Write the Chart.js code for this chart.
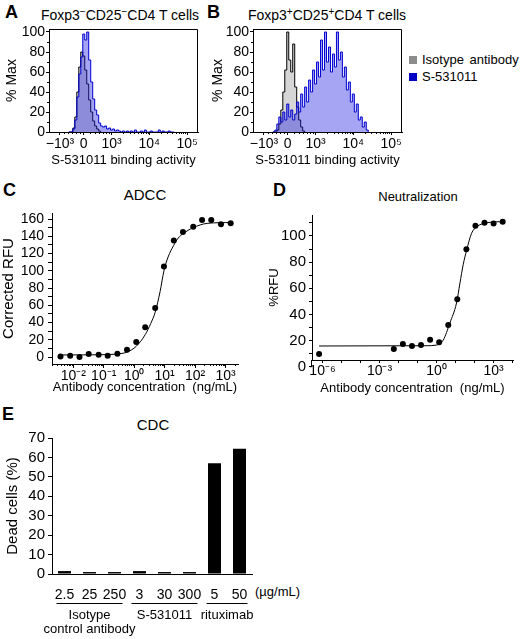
<!DOCTYPE html>
<html>
<head>
<meta charset="utf-8">
<script src="https://cdn.jsdelivr.net/npm/chart.js@4.4.1/dist/chart.umd.min.js"></script>
<style>
  html, body { margin: 0; padding: 0; background: #fff; }
  body { position: relative; width: 520px; height: 639px; overflow: hidden;
         font-family: 'Liberation Sans', Arial, sans-serif; color: #000; }
  canvas { position: absolute; }
  .t { position: absolute; white-space: nowrap; line-height: 16px; font-size: 13px; }
  .c { transform: translateX(-50%); }
  .letter { font-weight: bold; font-size: 18px; line-height: 20px; }
  .t sup { font-size: 10px; line-height: 0; vertical-align: 5px; }
  .sw { position: absolute; width: 8px; height: 8px; }
</style>
</head>
<body>
<div class="t letter" style="left:5px;top:2px">A</div>
<div class="t letter" style="left:207px;top:2px">B</div>
<div class="t letter" style="left:3px;top:180px">C</div>
<div class="t letter" style="left:273px;top:180px">D</div>
<div class="t letter" style="left:2px;top:404px">E</div>

<div class="t c" style="left:120px;top:7px;font-size:14px">Foxp3<sup>−</sup>CD25<sup>−</sup>CD4 T cells</div>
<div class="t c" style="left:327px;top:7px;font-size:14px">Foxp3<sup>+</sup>CD25<sup>+</sup>CD4 T cells</div>
<div class="t c" style="left:145px;top:187px;font-size:15px">ADCC</div>
<div class="t c" style="left:418px;top:189px">Neutralization</div>
<div class="t c" style="left:153px;top:417px;font-size:15px">CDC</div>

<div class="sw" style="left:409px;top:56px;background:#8c8c8c"></div>
<div class="t" style="left:422px;top:52px;word-spacing:2px">Isotype antibody</div>
<div class="sw" style="left:409px;top:73px;background:#0000c8"></div>
<div class="t" style="left:422px;top:69px">S-531011</div>
<div class="t" style="left:255px;top:584px">(µg/mL)</div>

<canvas id="cA" width="210" height="150" style="left:0px;top:20px"></canvas>
<canvas id="cB" width="205" height="150" style="left:205px;top:20px"></canvas>
<canvas id="cC" width="262" height="192" style="left:0px;top:205px"></canvas>
<canvas id="cD" width="258" height="192" style="left:262px;top:205px"></canvas>
<canvas id="cE" width="300" height="209" style="left:0px;top:430px"></canvas>

<script>
// ---- A / B: flow histograms (x in display channels of the biexponential axis)
const flowBins = [20, 22, 24, 26, 28, 30, 32, 34, 36, 38, 40, 42, 44, 46, 48, 50, 52, 54,
  56, 58, 60, 62, 64, 66, 68, 70, 72, 74, 76, 78, 80, 82, 84, 86, 88, 90, 92, 94, 96, 98,
  100, 102, 104, 106, 108, 110, 112, 114, 116, 118, 120, 122, 124, 126]
const flowTickPos = [11, 35, 63, 101, 139]
const flowTickLabels = ['−10³', '0', '10³', '10⁴', '10⁵']
const pctMaxTicks = [0, 20, 40, 60, 80, 100]

const negIsotype = [0, 0, 4, 15, 40, 65, 80, 76, 62, 48, 32, 20, 11, 6, 3, 1, 0]
const negS531011 = [0, 0, 3, 12, 35, 58, 75, 98, 92, 100, 72, 50, 33, 22, 17, 9, 6, 5,
  6, 3, 4, 2, 3, 1, 2, 1, 0, 1, 0, 1, 0, 1, 0, 2, 0, 0, 1, 0, 2, 0,
  0, 1, 0, 0, 0, 2, 0, 1, 0, 0, 1, 0, 0, 0]
const posIsotype = [0, 0, 2, 8, 22, 40, 62, 100, 72, 60, 88, 45, 25, 12, 5, 1, 0]
const posS531011 = [0, 2, 8, 15, 10, 20, 12, 28, 15, 22, 12, 18, 30, 20, 38, 25, 45, 30,
  52, 40, 62, 48, 70, 55, 92, 62, 100, 70, 85, 60, 78, 65, 100, 72, 80, 55, 65, 42, 50, 30,
  38, 20, 28, 12, 15, 5, 10, 2, 0]

// ---- C: ADCC
const adccConc = [0.0038, 0.0079, 0.016, 0.032, 0.068, 0.135, 0.28, 0.58, 1.17, 2.3,
  4.9, 9.5, 20, 40, 87, 170, 340, 710, 1480]
const adccRFU = [0.8, 1.6, 0, 3.5, 2.7, 1.6, 3.9, 8.6, 17.5, 34.6,
  57, 105, 135, 145, 151, 159, 159, 154, 155]
const adccFitConc = [0.0035, 0.032, 0.16, 0.32, 0.58, 1.17, 2.3, 3.5, 4.9, 7.1,
  9.5, 13, 19.5, 28, 40, 87, 250, 1600]
const adccFitRFU = [2.5, 2.6, 3.0, 3.8, 5.8, 12.5, 26, 39, 52, 76,
  100, 116, 129, 138, 143, 150, 155, 156]
const adccTicks = [0.01, 0.1, 1, 10, 100, 1000]
const adccTickLabels = ['10⁻²', '10⁻¹', '10⁰', '10¹', '10²', '10³']
const adccYTicks = [0, 10, 20, 30, 40, 50, 60, 70, 80, 90, 100, 110, 120, 130, 140, 150, 160]

// ---- D: Neutralization
const neutConc = [6.6e-7, 0.00565, 0.0169, 0.0508, 0.152, 0.457, 1.37, 4.12, 12.3, 37,
  111, 333, 1000, 3000]
const neutRFU = [9.8, 13.7, 17.5, 16, 16.7, 20.8, 18.8, 32, 51.6, 89.8,
  107.8, 110, 109.6, 110.8]
const neutFitConc = [6.6e-7, 0.316, 1, 2.24, 5.01, 11.2, 17, 25.1, 38, 69.2, 129, 427, 3548]
const neutFitRFU = [16, 16.2, 16.7, 20.5, 33.5, 48.8, 64, 78, 89, 102, 107, 110, 111]
const neutTicks = [1e-6, 1e-5, 1e-4, 1e-3, 1e-2, 1e-1, 1, 10, 100, 1000, 10000]
const neutTickLabels = ['10⁻⁶', '', '', '10⁻³', '', '', '10⁰', '', '', '10³', '']
const neutYTicks = [0, 10, 20, 30, 40, 50, 60, 70, 80, 90, 100, 110]

// ---- E: CDC
const cdcDoses = ['2.5', '25', '250', '3', '30', '300', '5', '50']
const cdcDead = [1.5, 1.0, 1.0, 1.5, 1.0, 1.0, 57, 64.5]
const cdcYTicks = [0, 10, 20, 30, 40, 50, 60, 70]
const cdcGroups = [['Isotype', 'control antibody'], ['S-531011'], ['rituximab']]
const cdcGroupSpans = [[0, 2], [3, 5], [6, 7]]

const FONT = "'Liberation Sans', Arial, sans-serif"
Chart.defaults.font.family = FONT
Chart.defaults.font.size = 13
Chart.defaults.color = '#000'
Chart.defaults.animation = false
Chart.defaults.plugins.legend.display = false
Chart.defaults.plugins.tooltip.enabled = false

// small extra tick marks drawn through the scales
const minorTicks = {
  id: 'minorTicks',
  afterDraw(chart, args, o) {
    const ctx = chart.ctx
    ctx.save()
    ctx.strokeStyle = '#000'
    ctx.lineWidth = 1
    const sx = chart.scales.x, sy = chart.scales.y
    ;(o.x || []).forEach(v => {
      const px = Math.round(sx.getPixelForValue(v)) + 0.5
      ctx.beginPath(); ctx.moveTo(px, sx.top); ctx.lineTo(px, sx.top + o.len); ctx.stroke()
    })
    ;(o.y || []).forEach(v => {
      const py = Math.round(sy.getPixelForValue(v)) + 0.5
      ctx.beginPath(); ctx.moveTo(sy.right - o.len, py); ctx.lineTo(sy.right, py); ctx.stroke()
    })
    if (o.yStubTo !== undefined) {
      // y axis line continues below the x axis down to the given value
      const px = Math.round(sy.right) - 0.5
      ctx.beginPath(); ctx.moveTo(px, sy.bottom); ctx.lineTo(px, sy.getPixelForValue(o.yStubTo)); ctx.stroke()
    }
    ctx.restore()
  }
}

const frameBox = {
  id: 'frameBox',
  afterDraw(chart) {
    const { ctx, chartArea: a } = chart
    ctx.save()
    ctx.strokeStyle = '#000'
    ctx.lineWidth = 1
    ctx.beginPath()
    ctx.moveTo(Math.round(a.left), Math.round(a.top) + 0.5)
    ctx.lineTo(Math.round(a.right) - 0.5, Math.round(a.top) + 0.5)
    ctx.lineTo(Math.round(a.right) - 0.5, Math.round(a.bottom))
    ctx.stroke()
    ctx.restore()
  }
}

const groupAxis = {
  id: 'groupAxis',
  afterDraw(chart, args, o) {
    const s = chart.scales.x, ctx = chart.ctx
    ctx.save()
    ctx.strokeStyle = '#000'
    ctx.fillStyle = '#000'
    ctx.lineWidth = 1
    ctx.font = '13px ' + FONT
    ctx.textAlign = 'center'
    ctx.textBaseline = 'middle'
    o.spans.forEach((sp, i) => {
      const x0 = s.getPixelForValue(sp[0]) - o.over
      const x1 = s.getPixelForValue(sp[1]) + o.over
      const ly = Math.round(s.top + o.lineOffset) + 0.5
      ctx.beginPath(); ctx.moveTo(x0, ly); ctx.lineTo(x1, ly); ctx.stroke()
      o.names[i].forEach((txt, j) => ctx.fillText(txt, (x0 + x1) / 2, s.top + o.textOffset + j * o.lineGap))
    })
    ctx.restore()
  }
}

// pin the plot area of a canvas to a given rectangle (page coords)
function fixed(cv, pl) {
  return {
    layout: { padding: { left: 0, bottom: 0, top: pl.t - cv.top, right: cv.left + cv.w - pl.r } },
    yFit: s => { s.width = pl.l - cv.left; s.paddingTop = 0; s.paddingBottom = 0 },
    xFit: s => { s.height = cv.top + cv.h - pl.b; s.paddingLeft = 0; s.paddingRight = 0 }
  }
}

const setTicks = vals => s => { s.ticks = vals.map(v => ({ value: v })) }
const axisGrid = len => ({ display: true, drawOnChartArea: false, tickLength: len, color: '#000' })

function logMinor(lo, hi) {
  const out = []
  for (let d = -7; d <= 4; d++) for (let k = 2; k <= 9; k++) {
    const v = k * Math.pow(10, d)
    if (v >= lo && v <= hi) out.push(v)
  }
  return out
}

const flowMinor = [15, 19, 23, 27, 31, 41, 46, 50, 54, 57, 60]
;[63, 101].forEach(p => { for (let k = 2; k <= 9; k++) flowMinor.push(p + 38 * Math.log10(k)) })

function flowChart(id, cv, pl, isotype, s531011, yTitlePad) {
  const f = fixed(cv, pl)
  return new Chart(document.getElementById(id), {
    type: 'line',
    data: {
      datasets: [
        {
          label: 'S-531011',
          data: s531011.map((v, i) => ({ x: flowBins[i], y: v })),
          borderColor: '#0000d0', backgroundColor: 'rgba(30,30,225,0.4)',
          fill: 'origin', stepped: true, borderWidth: 1, pointRadius: 0
        },
        {
          label: 'Isotype antibody',
          data: isotype.map((v, i) => ({ x: flowBins[i], y: v })),
          borderColor: '#000', backgroundColor: '#d6d6d6',
          fill: 'origin', stepped: true, borderWidth: 1, pointRadius: 0
        }
      ]
    },
    options: {
      responsive: false,
      layout: f.layout,
      scales: {
        x: {
          type: 'linear', min: 0, max: 150,
          afterFit: f.xFit,
          afterBuildTicks: setTicks(flowTickPos),
          ticks: { callback: (v, i) => flowTickLabels[i], padding: 1, maxRotation: 0, autoSkip: false, font: { size: 14 } },
          grid: axisGrid(3),
          border: { color: '#000' },
          title: { display: true, text: 'S-531011 binding activity', padding: { top: 0, bottom: 2 } }
        },
        y: {
          min: 0, max: 103,
          afterFit: f.yFit,
          afterBuildTicks: setTicks(pctMaxTicks),
          ticks: { padding: 1, autoSkip: false, font: { size: 14 } },
          grid: axisGrid(3),
          border: { color: '#000' },
          title: { display: true, text: '% Max', font: { size: 14 }, padding: { top: yTitlePad, bottom: 0 } }
        }
      },
      plugins: { minorTicks: { x: flowMinor, y: [10, 30, 50, 70, 90], len: 2 } }
    },
    plugins: [minorTicks, frameBox]
  })
}

flowChart('cA', { left: 0, top: 20, w: 210, h: 150 }, { l: 49, t: 29, r: 198, b: 132 }, negIsotype, negS531011, 4)
flowChart('cB', { left: 205, top: 20, w: 205, h: 150 }, { l: 253, t: 29, r: 402, b: 132 }, posIsotype, posS531011, 5)

// ---- C
{
  const cv = { left: 0, top: 205, w: 262, h: 192 }
  const f = fixed(cv, { l: 52, t: 213, r: 238, b: 364 })
  new Chart(document.getElementById('cC'), {
    type: 'scatter',
    data: {
      datasets: [
        {
          data: adccConc.map((x, i) => ({ x, y: adccRFU[i] })),
          pointRadius: 3, pointBackgroundColor: '#000', pointBorderWidth: 0, showLine: false
        },
        {
          data: adccFitConc.map((x, i) => ({ x, y: adccFitRFU[i] })),
          showLine: true, borderColor: '#000', borderWidth: 1, pointRadius: 0,
          cubicInterpolationMode: 'monotone'
        }
      ]
    },
    options: {
      responsive: false,
      layout: f.layout,
      scales: {
        x: {
          type: 'logarithmic', min: 0.002, max: 2570,
          afterFit: f.xFit,
          afterBuildTicks: setTicks(adccTicks),
          ticks: { callback: (v, i) => adccTickLabels[i], padding: 0, maxRotation: 0, autoSkip: false, font: { size: 14 } },
          grid: axisGrid(4),
          border: { color: '#000' },
          title: { display: true, text: 'Antibody concentration  (ng/mL)', padding: { top: 0, bottom: 2 } }
        },
        y: {
          min: -8, max: 167,
          afterFit: f.yFit,
          afterBuildTicks: setTicks(adccYTicks),
          ticks: { callback: v => (v % 20 === 0 ? v : ''), padding: 4, autoSkip: false, font: { size: 14 } },
          grid: axisGrid(4),
          border: { color: '#000' },
          title: { display: true, text: 'Corrected RFU', font: { size: 15 }, padding: { top: 0, bottom: 0 } }
        }
      },
      plugins: { minorTicks: { x: logMinor(0.002, 2570), len: 2 } }
    },
    plugins: [minorTicks]
  })
}

// ---- D
{
  const cv = { left: 262, top: 205, w: 258, h: 192 }
  const f = fixed(cv, { l: 312, t: 215, r: 513, b: 360 })
  new Chart(document.getElementById('cD'), {
    type: 'scatter',
    data: {
      datasets: [
        {
          data: neutConc.map((x, i) => ({ x, y: neutRFU[i] })),
          pointRadius: 3, pointBackgroundColor: '#000', pointBorderWidth: 0, showLine: false
        },
        {
          data: neutFitConc.map((x, i) => ({ x, y: neutFitRFU[i] })),
          showLine: true, borderColor: '#000', borderWidth: 1, pointRadius: 0,
          cubicInterpolationMode: 'monotone'
        }
      ]
    },
    options: {
      responsive: false,
      layout: f.layout,
      scales: {
        x: {
          type: 'logarithmic', min: 2.8e-7, max: 10500,
          afterFit: f.xFit,
          afterBuildTicks: setTicks(neutTicks),
          ticks: { callback: (v, i) => neutTickLabels[i], padding: 0, maxRotation: 0, autoSkip: false, font: { size: 14 } },
          grid: axisGrid(3),
          border: { color: '#000' },
          title: { display: true, text: 'Antibody concentration  (ng/mL)', padding: { top: 0, bottom: 1 } }
        },
        y: {
          min: 5.3, max: 116,
          afterFit: f.yFit,
          afterBuildTicks: setTicks(neutYTicks),
          ticks: { callback: v => (v % 20 === 0 && v <= 100 ? v : ''), padding: 3, autoSkip: false, font: { size: 15 } },
          grid: axisGrid(3),
          border: { color: '#000' },
          title: { display: true, text: '%RFU', padding: { top: 5, bottom: 0 } }
        }
      },
      plugins: { minorTicks: { yStubTo: 0, len: 0 } }
    },
    plugins: [minorTicks]
  })
}

// ---- E
{
  const cv = { left: 0, top: 430, w: 300, h: 209 }
  const f = fixed(cv, { l: 52, t: 438, r: 252, b: 574 })
  new Chart(document.getElementById('cE'), {
    type: 'bar',
    data: {
      labels: cdcDoses,
      datasets: [{ data: cdcDead, backgroundColor: '#000', barPercentage: 0.52, categoryPercentage: 1 }]
    },
    options: {
      responsive: false,
      layout: f.layout,
      scales: {
        x: {
          afterFit: f.xFit,
          ticks: { padding: 5, maxRotation: 0, autoSkip: false, font: { size: 14 } },
          grid: { display: false },
          border: { color: '#000' }
        },
        y: {
          min: 0, max: 70,
          afterFit: f.yFit,
          afterBuildTicks: setTicks(cdcYTicks),
          ticks: { padding: 3, autoSkip: false, font: { size: 15 } },
          grid: axisGrid(4),
          border: { color: '#000' },
          title: { display: true, text: 'Dead cells (%)', font: { size: 15 }, padding: { top: 4, bottom: 0 } }
        }
      },
      plugins: {
        groupAxis: { spans: cdcGroupSpans, names: cdcGroups, over: 8, lineOffset: 28.7, textOffset: 41, lineGap: 14.3 }
      }
    },
    plugins: [groupAxis]
  })
}
</script>
</body>
</html>
